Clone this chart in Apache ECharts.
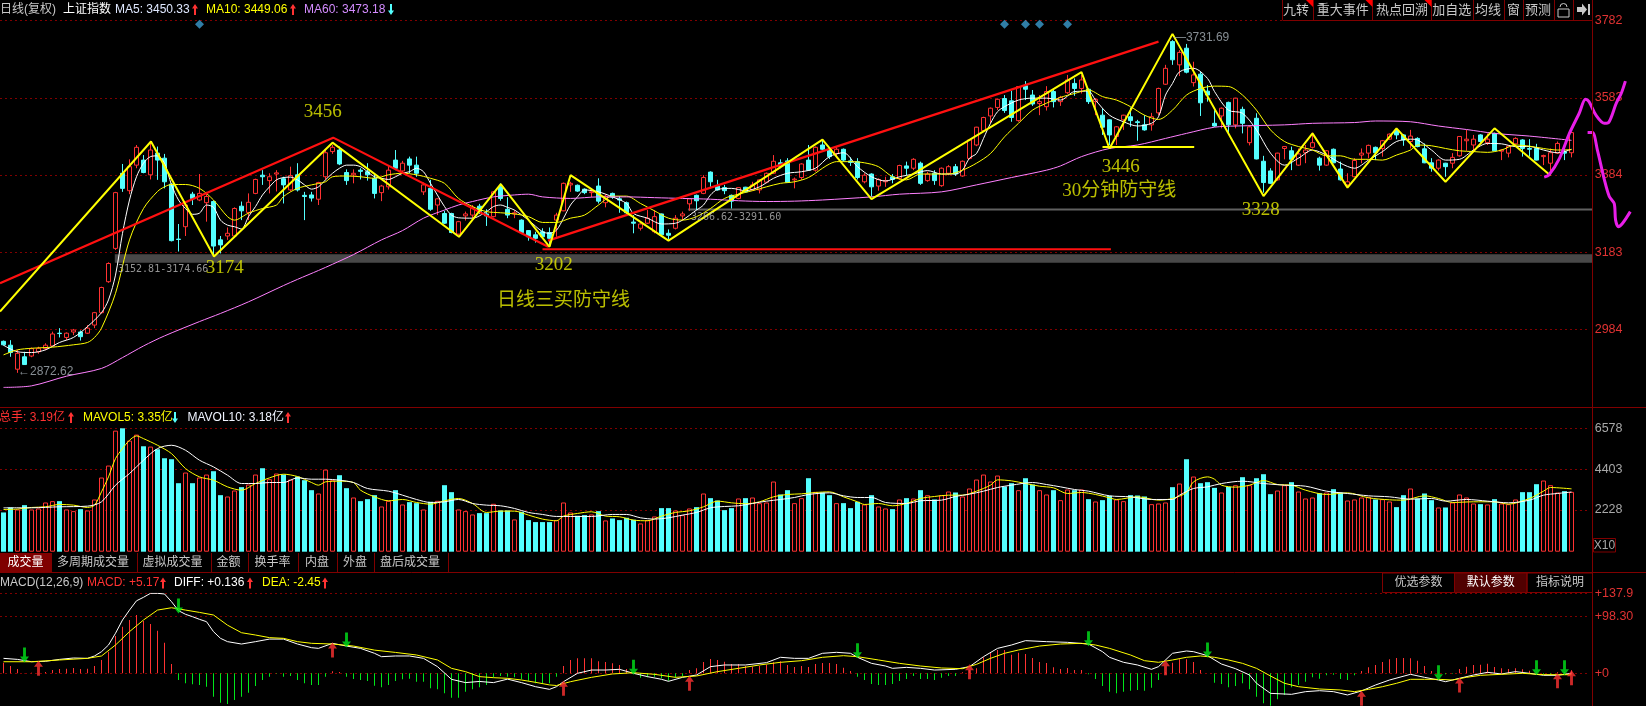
<!DOCTYPE html>
<html><head><meta charset="utf-8"><style>html,body{margin:0;background:#000}#c{width:1646px;height:706px}</style>
<script src="https://cdn.jsdelivr.net/npm/echarts@6/dist/echarts.min.js"></script></head><body><div id="c"></div>
<script>
// open, close, low, high per session
const ohlc=[[2954,2945,2943,2956],[2944,2925,2914,2957],[2882,2923,2872.62,2932],[2914,2894,2893,2927],[2916,2935,2913,2938],[2927,2936,2922,2940],[2935,2944,2931,2949],[2942,2973,2940,2979],[2975,2974,2964,2988],[2964,2975,2957,2977],
[2978,2983,2970,2986],[2978,2966,2956,2982],[2975,2988,2973,2996],[2996,3028,2988,3030],[3028,3093,3026,3095],[3108,3155,3105,3158],[3194,3338,3190,3340],[3388,3349,3340,3412],[3343,3405,3334,3424],[3409,3455,3401,3461],
[3422,3390,3388,3435],[3384,3448,3372,3470],[3440,3422,3371,3457],[3427,3366,3349,3438],[3360,3214,3212,3362],[3218,3217,3186,3257],[3250,3306,3226,3315],[3334,3323,3306,3340],[3319,3336,3316,3386],[3312,3328,3263,3340],
[3315,3200,3173,3318],[3216,3203,3181,3226],[3226,3233,3216,3248],[3226,3297,3222,3300],[3303,3291,3267,3315],[3287,3313,3267,3336],[3336,3372,3334,3374],[3383,3379,3358,3396],[3369,3379,3336,3388],[3386,3389,3341,3396],
[3374,3358,3310,3379],[3345,3382,3341,3405],[3384,3345,3341,3414],[3331,3328,3267,3340],[3332,3324,3315,3340],[3321,3364,3306,3366],[3379,3441,3371,3448],[3444,3455,3438,3461],[3448,3412,3409,3457],[3390,3369,3358,3398],
[3384,3388,3362,3398],[3396,3393,3372,3401],[3392,3384,3369,3414],[3375,3336,3323,3384],[3338,3355,3316,3358],[3353,3396,3346,3409],[3422,3401,3396,3448],[3394,3414,3390,3420],[3425,3409,3388,3431],[3409,3388,3379,3431],
[3340,3358,3332,3364],[3349,3295,3291,3371],[3306,3322,3280,3323],[3284,3259,3257,3291],[3284,3235,3233,3286],[3231,3263,3229,3265],[3278,3283,3266,3289],[3280,3300,3272,3306],[3303,3289,3283,3309],[3283,3278,3252,3295],
[3276,3340,3274,3342],[3353,3323,3317,3362],[3295,3280,3272,3326],[3283,3286,3272,3293],[3267,3235,3231,3269],[3240,3224,3214,3241],[3229,3220,3209,3237],[3237,3224,3220,3246],[3235,3220,3198,3248],[3267,3280,3224,3286],
[3291,3362,3290,3364],[3358,3362,3340,3366],[3357,3342,3340,3359],[3347,3338,3334,3349],[3338,3340,3326,3349],[3355,3316,3310,3375],[3312,3329,3300,3334],[3336,3326,3322,3338],[3322,3319,3286,3329],[3312,3286,3283,3315],
[3262,3259,3233,3280],[3246,3257,3240,3259],[3259,3272,3257,3293],[3237,3276,3233,3293],[3283,3229,3227,3284],[3233,3228,3217,3243],[3246,3272,3243,3280],[3278,3283,3266,3289],[3309,3322,3291,3324],[3331,3317,3293,3333],
[3336,3377,3334,3383],[3391,3366,3353,3393],[3355,3345,3343,3371],[3351,3343,3334,3358],[3331,3316,3297,3333],[3323,3351,3321,3352],[3352,3340,3338,3353],[3345,3358,3343,3366],[3345,3371,3336,3372],[3365,3388,3362,3390],
[3388,3419,3386,3435],[3415,3406,3401,3424],[3420,3365,3364,3427],[3371,3373,3349,3377],[3377,3412,3371,3414],[3422,3396,3394,3461],[3396,3455,3392,3457],[3461,3450,3444,3474],[3450,3431,3425,3455],[3439,3450,3427,3457],
[3450,3422,3418,3452],[3420,3416,3407,3429],[3418,3377,3372,3427],[3366,3383,3362,3388],[3386,3353,3328,3388],[3355,3372,3343,3375],[3366,3369,3353,3379],[3379,3372,3362,3386],[3375,3408,3371,3410],[3407,3401,3383,3418],
[3401,3424,3396,3427],[3414,3362,3358,3418],[3369,3386,3366,3392],[3388,3369,3358,3396],[3356,3401,3353,3403],[3388,3405,3383,3409],[3405,3386,3381,3412],[3381,3419,3379,3421],[3426,3474,3424,3476],[3461,3507,3458,3508],
[3498,3532,3495,3534],[3536,3556,3517,3558],[3558,3579,3551,3581],[3581,3550,3544,3590],[3575,3532,3521,3601],[3524,3612,3521,3613],[3614,3605,3577,3626],[3590,3567,3562,3603],[3568,3573,3538,3590],[3560,3599,3550,3613],
[3599,3573,3558,3607],[3573,3584,3562,3588],[3596,3629,3593,3642],[3620,3607,3588,3633],[3607,3629,3594,3642],[3605,3573,3567,3607],[3573,3579,3538,3582],[3538,3507,3487,3556],[3526,3487,3461,3527],[3483,3508,3461,3510],
[3526,3538,3500,3539],[3534,3524,3508,3558],[3521,3519,3472,3526],[3513,3500,3498,3538],[3513,3534,3498,3544],[3544,3607,3538,3609],[3618,3659,3616,3668],[3728,3681,3668,3731.69],[3668,3700,3639,3706],[3711,3649,3646,3722],
[3622,3642,3612,3676],[3644,3570,3536,3650],[3600,3590,3573,3616],[3517,3510,3508,3551],[3536,3556,3504,3558],[3571,3513,3491,3573],[3513,3582,3504,3583],[3553,3517,3491,3560],[3467,3508,3460,3510],[3530,3425,3424,3543],
[3419,3364,3338,3433],[3394,3362,3360,3401],[3371,3440,3369,3441],[3452,3457,3424,3458],[3446,3424,3396,3457],[3409,3438,3407,3452],[3441,3448,3414,3461],[3455,3467,3452,3493],[3427,3409,3395,3431],[3409,3446,3407,3448],
[3450,3415,3414,3452],[3399,3371,3369,3418],[3358,3366,3355,3388],[3379,3421,3378,3427],[3435,3440,3414,3452],[3440,3460,3427,3462],[3455,3441,3422,3457],[3452,3472,3431,3474],[3476,3489,3474,3491],[3498,3487,3476,3504],
[3487,3474,3459,3489],[3470,3484,3452,3500],[3478,3457,3455,3481],[3451,3415,3414,3465],[3415,3401,3392,3427],[3401,3422,3395,3424],[3414,3405,3379,3415],[3414,3429,3401,3440],[3433,3483,3431,3484],[3472,3476,3446,3500],
[3461,3476,3448,3487],[3487,3470,3467,3489],[3467,3476,3461,3491],[3491,3446,3445,3493],[3445,3448,3422,3450],[3440,3458,3429,3460],[3464,3478,3462,3481],[3474,3452,3431,3476],[3452,3450,3431,3476],[3452,3422,3421,3464],
[3431,3434,3409,3436],[3414,3441,3392,3452],[3440,3465,3438,3470],[3444,3440,3422,3452],[3441,3493,3429,3495]];
const volume=[2092,2358,2252,2482,2252,2305,2624,2695,2695,2252,2163,2269,2199,2784,3954,4592,6454,6578,5922,6241,5620,5603,5461,4982,4929,3652,4220,3652,3954,4113,4291,3014,2943,3262,3440,3581,4113,4450,3865,4167,4113,3847,4007,3812,3280,3103,4379,3812,4078,3386,2890,2695,2801,3014,2411,2713,3280,2518,2642,2589,2252,2660,2713,3546,3174,2252,2163,1986,2057,2057,2553,2199,2199,1720,2128,1684,1578,1578,1578,1684,
2624,2092,1915,1950,1986,2163,1667,1773,1684,1808,1702,1507,1684,1879,2323,2323,2199,1950,2305,2376,3103,2855,2730,2216,2323,2837,2855,2890,2589,2624,3741,3050,3280,2589,2855,3918,3191,3156,3014,2589,2589,2323,2660,2518,3014,2411,2305,2269,2784,2855,2837,3280,3014,2784,3014,3209,3156,2943,3369,3847,4113,3741,4060,3475,3652,3280,3918,3581,3280,3050,3280,2748,3316,3280,3316,2801,2677,2748,2979,2784,
2695,3014,2996,2943,2535,2571,2624,3440,3635,4929,4007,3652,3706,3404,3156,3457,3546,3972,3546,3918,4131,3067,3262,3546,3706,3209,2837,2890,3120,3156,3333,3156,2730,2784,2890,2925,2784,2801,2677,2376,3014,3369,2837,3103,2748,2358,2358,2624,3050,2890,2571,2535,2518,2801,2571,2535,2784,3174,3174,3599,3794,3546,3156,3227,3190];
const macdHist=[18.4,12.6,7.5,0.6,1.1,-0.5,2.3,5.7,7.5,8,9.2,7.5,8,12.6,23,37.3,64.3,80.4,91.9,100.5,90.2,85,73.5,52.8,16,-11.5,-17.2,-19,-20,-23,-40.2,-50.5,-52.8,-46,-40.2,-33.3,-21.8,-11.5,-5.7,-0.6,-5.7,-4.6,-11.5,-17.2,-20,-20,-5.7,3.4,2.3,-5.7,-9.8,-11.5,-13.2,-21.3,-24.1,-20,-13.2,-10.3,-9.2,-14.4,-14.4,-25.9,-27.6,-34.5,-41.9,-41.9,-31.6,-27.6,-24.1,-20,-6.9,-4.6,-5.7,-6.9,-10.3,-12.6,-17.2,-17.2,-17.2,-5.7,
12.6,23,25.8,25.8,25.8,20.7,19.5,17.2,14.4,7.5,1,-7.5,-6.9,-5.7,-8.6,-12.6,-7.5,-4.6,5.7,8.6,19.5,24.7,23,20.1,16,16,12.6,11.5,12.6,14.9,19,20.7,14.4,10.9,12.6,10.9,16,17.8,17.8,16,9.8,4,-5.7,-11.5,-18.4,-20.1,-20.1,-18.4,-13.2,-9.8,-4.6,-9.8,-9.8,-11.5,-7.5,-4.6,-4.6,1.7,5.7,8.6,27.6,35.6,40.2,40.2,32.2,35.6,33.3,26.4,19.5,17.8,10.3,7.5,9.2,5.7,5.7,-1.7,-9.8,-21.8,-31.6,
-34.5,-31.6,-29.9,-28.7,-29.9,-24.7,-11.5,1.7,18.4,24.1,24.1,19.5,5.7,0.3,-16.1,-18.4,-24.1,-21.8,-17.2,-27.6,-40.2,-51.7,-56,-44.8,-37.3,-24.1,-20.1,-14.4,-6.9,-9.2,-3.4,-2.3,-9.8,-11.5,-3.4,4,10.3,14.4,19.5,24.1,26.4,26.4,25.8,21.8,12.6,4,1.1,-1.7,-0.6,7.5,11.5,14.4,14.9,16.7,10.9,8.6,7.5,8.6,6.9,4.6,1.1,-1.1,-1.7,1.7,1.7,5.17];
// moving averages read at [session, value]
const ma5=[[0,2944],[2,2927],[4,2925],[6,2932],[8,2951],[10,2964],[12,2992],[14,3028],[15,3061],[16,3125],[17,3233],[18,3319],[19,3379],[20,3414],[21,3431],[22,3433],[23,3414],[24,3358],[25,3319],[26,3297],[27,3282],[28,3285],[29,3306],[30,3300],[31,3267],[32,3254],[33,3250],[34,3244],[35,3276],[36,3302],[37,3332],[38,3353],[39,3371],[40,3377],[41,3378],[42,3371],[43,3358],[44,3347],[45,3353],[46,3371],[47,3388],[48,3401],[49,3409],[50,3409],[51,3405],[52,3392],[53,3379],[54,3375],[55,3372],[56,3379],[57,3388],[58,3392],[59,3401],[60,3392],[61,3362],[63,3302],[64,3280],[65,3273],[67,3272],[69,3289],[70,3302],[71,3306],[72,3300],[73,3293],[75,3267],[77,3237],[78,3233],[79,3241],[80,3272],[81,3306],[82,3327],[83,3345],[85,3340],[87,3327],[89,3310],[90,3284],[92,3272],[94,3257],[96,3259],[97,3267],[99,3293],[100,3306],[101,3332],[102,3346],[104,3349],[106,3343],[108,3353],[110,3375],[112,3388],[114,3392],[116,3401],[118,3431],[120,3441],[122,3405],[124,3379],[126,3368],[128,3379],[130,3386],[132,3395],[134,3386],[136,3386],[137,3396],[138,3427],[139,3439],[140,3478],[141,3517],[142,3547],[143,3560],[145,3577],[147,3582],[149,3582],[151,3577],[153,3599],[155,3600],[156,3577],[158,3538],[160,3521],[162,3510],[164,3517],[165,3534],[166,3590],[167,3620],[168,3650],[170,3659],[172,3633],[173,3599],[175,3551],[177,3543],[179,3500],[181,3440],[183,3409],[185,3427],[187,3448],[189,3435],[191,3414],[193,3401],[195,3422],[197,3444],[199,3470],[201,3476],[202,3474],[204,3448],[206,3422],[208,3424],[210,3448],[212,3465],[214,3464],[216,3457],[218,3457],[220,3448],[222,3441],[224,3450]];
const ma10=[[0,2919],[2,2932],[4,2936],[7,2939],[10,2945],[12,2951],[13,2964],[14,2988],[16,3078],[18,3216],[20,3297],[22,3341],[23,3353],[24,3359],[26,3359],[28,3349],[30,3319],[32,3276],[33,3267],[35,3285],[37,3297],[39,3306],[40,3328],[42,3349],[44,3358],[46,3366],[47,3379],[49,3381],[51,3379],[53,3375],[55,3384],[57,3388],[59,3384],[61,3375],[63,3362],[65,3323],[67,3302],[69,3289],[71,3286],[73,3283],[75,3276],[77,3261],[79,3261],[81,3272],[83,3280],[85,3306],[87,3329],[89,3329],[91,3310],[93,3291],[95,3272],[97,3267],[99,3276],[101,3297],[103,3323],[105,3334],[107,3343],[109,3353],[111,3362],[113,3366],[115,3377],[117,3401],[118,3412],[119,3418],[121,3418],[123,3415],[125,3405],[127,3379],[129,3371],[131,3386],[133,3386],[135,3386],[137,3396],[139,3414],[141,3439],[143,3482],[145,3517],[147,3551],[149,3569],[151,3584],[153,3594],[155,3603],[157,3586],[159,3577],[161,3560],[163,3538],[165,3527],[167,3551],[169,3590],[171,3607],[173,3613],[175,3612],[177,3590],[179,3551],[181,3500],[183,3470],[185,3457],[187,3448],[189,3433],[191,3433],[193,3424],[195,3424],[197,3422],[199,3435],[201,3448],[202,3461],[204,3459],[206,3452],[208,3446],[210,3444],[212,3442],[214,3448],[216,3461],[218,3458],[220,3452],[222,3448],[224,3449]];
const ma60=[[0,2835],[4,2839],[9,2864],[14,2884],[17,2912],[20,2942],[23,2968],[28,3005],[31,3026],[35,3056],[40,3098],[42,3114],[45,3137],[47,3153],[50,3178],[52,3197],[54,3216],[57,3240],[60,3272],[63,3293],[65,3306],[67,3315],[70,3327],[73,3332],[75,3334],[77,3327],[81,3323],[85,3327],[89,3327],[93,3325],[97,3323],[101,3321],[105,3317],[109,3315],[113,3316],[117,3319],[124,3327],[128,3334],[134,3340],[139,3358],[144,3377],[149,3396],[151,3407],[154,3431],[158,3452],[162,3461],[166,3478],[169,3491],[173,3507],[176,3510],[183,3513],[187,3517],[193,3519],[196,3523],[201,3521],[205,3510],[209,3501],[213,3491],[218,3484],[224,3473]];
const mavol5=[[0,2252],[2,2270],[4,2358],[6,2394],[8,2518],[10,2482],[12,2358],[13,2482],[14,3191],[15,3989],[16,4964],[17,5496],[18,5940],[19,6170],[20,6028],[22,5674],[24,5230],[26,4433],[28,3989],[30,3812],[32,3457],[34,3280],[36,3635],[38,3936],[40,4131],[42,4007],[44,3688],[45,3546],[46,3723],[48,3759],[50,3688],[51,3280],[53,2925],[55,2713],[57,2784],[59,2624],[61,2535],[63,2713],[65,2837],[67,2571],[69,2092],[71,2163],[73,2163],[75,1950],[77,1738],[79,1649],[80,1897],[82,2039],[84,2128],[86,1897],[88,1862],[90,1684],[92,1649],[94,1897],[96,2092],[98,2181],[100,2394],[102,2695],[104,2606],[106,2553],[108,2660],[110,2925],[112,3050],[114,3085],[116,3156],[118,3191],[120,2925],[122,2660],[123,2518],[125,2571],[127,2447],[129,2571],[131,2837],[133,2943],[135,3014],[137,3014],[139,3227],[141,3546],[142,3830],[144,3776],[146,3635],[148,3493],[150,3404],[152,3103],[154,3156],[156,3050],[158,2872],[159,2784],[162,2925],[165,2748],[167,2837],[169,3156],[170,3723],[172,3989],[173,3865],[174,3546],[176,3440],[178,3546],[180,3794],[182,3581],[184,3546],[186,3280],[189,3050],[192,3138],[195,2872],[198,2766],[200,2748],[203,2979],[205,2837],[207,2624],[210,2660],[213,2660],[215,2535],[218,2837],[220,3227],[221,3422],[224,3350]];
const mavol10=[[0,2340],[4,2340],[8,2394],[12,2429],[14,2660],[16,3546],[18,4167],[20,4876],[22,5496],[24,5674],[26,5408],[28,4876],[30,4521],[32,4078],[34,3635],[36,3635],[38,3688],[40,3688],[42,3936],[44,3865],[46,3865],[48,3812],[50,3688],[52,3369],[55,3227],[57,3014],[59,2784],[61,2624],[63,2660],[65,2784],[67,2571],[69,2482],[71,2447],[73,2305],[75,2092],[77,1986],[79,1879],[80,1879],[84,1879],[87,1986],[89,1986],[91,1808],[93,1738],[95,1808],[97,1950],[99,2092],[101,2340],[103,2411],[105,2447],[107,2571],[109,2695],[111,2784],[113,2890],[115,3050],[118,3138],[120,2979],[122,2890],[124,2890],[126,2624],[129,2571],[131,2713],[134,2748],[136,2943],[138,3067],[140,3227],[142,3422],[144,3546],[147,3688],[149,3581],[151,3457],[153,3316],[155,3227],[158,2979],[161,2925],[164,2784],[167,2784],[168,3014],[170,3369],[172,3457],[174,3635],[177,3759],[180,3635],[183,3546],[186,3493],[189,3227],[192,3103],[195,2979],[198,2925],[201,2801],[204,2837],[206,2695],[209,2784],[212,2695],[215,2606],[218,2748],[220,3014],[222,3103],[224,3180]];
const diff=[[0,25.8],[2,24],[4,20],[6,20.7],[8,24],[10,26.4],[12,25.8],[13,29.9],[14,37.3],[15,48.8],[16,69],[17,91.9],[18,109],[19,125],[20,131],[21,137.9],[22,137.9],[23,136.7],[24,123.5],[25,108],[26,101.7],[27,97.6],[28,93],[29,89],[30,71.8],[31,60.3],[32,54.6],[34,50.5],[36,54.6],[38,59],[40,59],[42,50.5],[44,44.2],[45,43],[47,51.7],[49,47],[51,43],[53,34.5],[54,28.7],[56,29.9],[58,29.9],[60,25.8],[62,11.5],[64,-10.3],[66,-16],[68,-14],[70,-16],[72,-10],[74,-16],[76,-23],[78,-27.6],[79,-23],[80,-14.4],[82,0],[84,5.7],[86,5.7],[88,6.9],[90,0],[92,-5.7],[94,-10.3],[95,-13.8],[97,-6.9],[99,-2.9],[101,11.5],[103,14.4],[106,14.4],[109,18.4],[111,27.6],[113,25.8],[115,25.8],[117,34.5],[119,36.2],[121,34.5],[122,27.6],[124,17.2],[126,12.6],[127,8.6],[129,10.3],[131,8.6],[133,5.7],[136,6.9],[138,11.5],[140,28.7],[142,43],[144,48.8],[146,56.3],[149,54.6],[152,53.4],[155,50.5],[157,37.3],[158,27.6],[160,19],[162,14.4],[164,6.9],[165,11.5],[167,34.5],[169,38.5],[170,37.3],[172,30.4],[174,16],[176,8],[178,-2.9],[179,-17.2],[181,-34.5],[184,-36.2],[186,-31.6],[188,-29.9],[190,-31.6],[192,-37.3],[194,-30.4],[196,-20.1],[198,-11.5],[201,-1.7],[203,-6.9],[205,-11.5],[206,-14.4],[208,-8.6],[210,-2.9],[212,1.7],[214,-1.1],[216,2.9],[218,0],[220,-3.4],[222,-3.4],[224,0.136]];
const dea=[[0,20],[4,20],[8,23],[12,25.8],[14,29.9],[16,48.8],[18,71.8],[20,91.9],[22,109],[24,113],[26,109],[28,105],[30,100.5],[32,83],[34,70],[36,66],[38,61.5],[40,60.3],[42,54.6],[44,51.7],[47,50.5],[50,47],[53,40],[56,36],[59,31.6],[62,23],[64,8.6],[66,2.9],[68,-5.7],[70,-7.5],[72,-8.6],[74,-11.5],[76,-15.5],[78,-20],[79,-21],[81,-14.4],[84,-6.9],[87,-1.1],[90,1.1],[93,-1.7],[96,-6.9],[99,-4.6],[102,2.9],[105,8.6],[108,14.4],[111,19],[114,21.8],[117,27.6],[120,30.4],[122,28.7],[125,23],[128,17.2],[131,12.6],[134,9.2],[137,8],[139,15.5],[141,25.8],[143,34.5],[145,40.2],[148,47],[151,50.5],[154,51.7],[156,48.8],[158,43],[161,31.6],[163,21.8],[165,19],[167,23],[169,27.6],[171,29.9],[173,27.6],[175,23],[177,17.2],[179,8.6],[181,-4.6],[183,-17.2],[185,-23],[188,-27],[191,-28.7],[193,-31.6],[195,-27.6],[197,-23],[199,-17.2],[201,-10.3],[203,-10.3],[205,-10.3],[207,-11.5],[209,-6.9],[211,-3.4],[214,-1.7],[217,0],[220,-2.3],[224,-2.45]];
// hand-drawn annotations: [bar position, price]
const yellowZig=[[-0.5,3031],[21.07,3470],[30.07,3173],[47,3467],[65.07,3224],[71.03,3360],[78,3198],[81,3383],[95,3214],[117,3475],[124,3321],[154,3649],[158,3452],[167,3748],[180,3329],[187,3491],[192,3351],[199,3504],[206,3366],[213,3504],[221,3382]];
const yellowFloor=[[157,3456],[170.1,3456]];
const redTrendA=[[-0.5,3104],[47.1,3480],[77.8,3198]];
const redTrendB=[[77.8,3214],[165,3728]];
const redFloor=[[77,3192],[158.2,3192]];
const pinkUp=[[220.1,3378],[220.8,3384],[222.3,3427],[223.7,3491],[225.1,3543],[226,3579],[226.5,3573],[227.5,3538],[228.7,3517],[229.3,3519],[230.4,3569],[231.1,3594],[231.7,3626]];
const pinkDown=[[226.3,3493],[227,3493],[227.7,3448],[228.7,3371],[229.4,3328],[230.1,3310],[230.3,3267],[230.7,3250],[231.3,3259],[232.4,3289]];
const bandDaily=[[15.9,3179],[227,3157]];
const bandThirty=[[97.8,3297],[227,3292]];
const diamonds=[[28,3773],[143,3773],[146,3773],[148,3773],[152,3773]];
const notes=[['3456',45.6,3546],['3174',31.6,3143],['3202',78.6,3151],['3446',159.6,3404],['30分钟防守线',159.4,3342],['3328',179.6,3293],['日线三买防守线',80,3058]];
const monoNotes=[['3152.81-3174.66',16.36,3141],['3266.62-3291.60',98.2,3275]];
const extremes=[['←2872.62',2.07,2876],['—3731.69',167.2,3737]];
const upSignals=[[5,8.6],[47,40.2],[80,-25.8],[98,-17.2],[138,2.9],[166,9.8],[194,-43],[208,-20],[222,-13],[224,-7.5]];
const downSignals=[[3,31.6],[25,116],[49,57.4],[90,10.3],[122,39],[155,59.7],[172,40.2],[205,1.1],[219,9.8],[223,9.8]];
const priceTicks=[2984,3183,3384,3583,3782];
const volTicks=[2228,4403,6578];
const macdTicks=[0,98.3,137.9];
const macdTickText={0:'+0',98.3:'+98.30',137.9:'+137.9'};
const categories=Array.from({length:227},(_,i)=>String(i));

const RED='#ff3232',CYAN='#54ffff',DARK='#800000',GREY='#a8a8a8',YEL='#ffff00',PINK='#ff80ff';
const FONT='"Liberation Sans","Noto Sans CJK SC",sans-serif';
const ARROW='path://M5,0 L10,6 L6.6,6 L6.6,15 L3.4,15 L3.4,6 L0,6 Z';

function T(text,x,y,fill,align,size){return {type:'text',x:x,y:y,silent:true,z:50,style:{text:text,fill:fill,font:(size||12)+'px '+FONT,textAlign:align||'left',textVerticalAlign:'middle'}};}
function L(x1,y1,x2,y2,c){return {type:'line',silent:true,z:49,shape:{x1:x1,y1:y1,x2:x2,y2:y2},style:{stroke:c||DARK,lineWidth:1}};}
function R(x,y,w,h,c,s){return {type:'rect',silent:true,z:48,shape:{x:x,y:y,width:w,height:h},style:{fill:c||'none',stroke:s||null,lineWidth:1}};}
function A(x,y,up,c){var d=up?1:-1;return {type:'polygon',silent:true,z:50,shape:{points:[[x,y-5.5*d],[x+3,y-1*d],[x+1,y-1*d],[x+1,y+5.5*d],[x-1,y+5.5*d],[x-1,y-1*d],[x-3,y-1*d]]},style:{fill:c}};}
function Tri(x,y){return {type:'polygon',silent:true,z:50,shape:{points:[[x-7,y],[x,y],[x,y+7]]},style:{fill:'#ff0000'}};}

const chrome=[
 L(1592.5,0,1592.5,706),L(0,407.5,1592,407.5),L(1592,407.5,1646,407.5),L(0,572.5,1646,572.5),L(1282.5,20.5,1592.5,20.5),
 T('日线(复权)',0,9.5,'#c8c8c8'),T('上证指数',63,9.5,'#ffffff'),
 T('MA5: 3450.33',115,9.5,'#dfe8ff'),A(195,9.5,true,RED),
 T('MA10: 3449.06',206,9.5,YEL),A(293,9.5,true,RED),
 T('MA60: 3473.18',304,9.5,'#d48cff'),A(391,9.5,false,CYAN),
 T('总手: 3.19亿',-1,417.5,RED),A(71,417.5,true,RED),
 T('MAVOL5: 3.35亿',83,417.5,YEL),A(175,417.5,false,CYAN),
 T('MAVOL10: 3.18亿',187.5,417.5,'#f0f4ff'),A(288,417.5,true,RED),
 T('MACD(12,26,9)',0,583,'#c8c8c8'),T('MACD: +5.17',87,583,RED),A(163,583,true,RED),
 T('DIFF: +0.136',174,583,'#ffffff'),A(250,583,true,RED),T('DEA: -2.45',262,583,YEL),A(325,583,true,RED),
 R(0,553,51,19.5,'#800000'),T('成交量',25.5,563,'#ffffff','center'),
 T('多周期成交量',93,563,'#c8c8c8','center'),T('虚拟成交量',172.5,563,'#c8c8c8','center'),T('金额',228.6,563,'#c8c8c8','center'),T('换手率',272.5,563,'#c8c8c8','center'),T('内盘',317,563,'#c8c8c8','center'),T('外盘',355,563,'#c8c8c8','center'),T('盘后成交量',410,563,'#c8c8c8','center'),
 R(1382.5,573,72,19.5,null,DARK),R(1454.5,573,72.5,19.5,'#500000',DARK),R(1527,573,65.5,19.5,null,DARK),
 T('优选参数',1418.5,583,'#c8c8c8','center'),T('默认参数',1490.7,583,'#ffffff','center'),T('指标说明',1560,583,'#c8c8c8','center'),
 R(1593.5,538.5,22,13.5,null,DARK),T('X10',1604.5,546,GREY,'center'),
 T('九转',1296,10,'#c8c8c8','center',13),T('重大事件',1342.7,10,'#c8c8c8','center',13),T('热点回溯',1402,10,'#c8c8c8','center',13),T('加自选',1451.7,10,'#c8c8c8','center',13),T('均线',1488,10,'#c8c8c8','center',13),T('窗',1513.5,10,'#c8c8c8','center',13),T('预测',1538,10,'#c8c8c8','center',13),
 Tri(1313,0),Tri(1372.5,0),Tri(1431.5,0),
 {type:'rect',silent:true,z:50,shape:{x:1558,y:9,width:11,height:8},style:{fill:'none',stroke:'#c8c8c8',lineWidth:1}},
 {type:'arc',silent:true,z:50,shape:{cx:1563.5,cy:7,r:3.5,startAngle:Math.PI,endAngle:0},style:{fill:'none',stroke:'#c8c8c8',lineWidth:1}},
 {type:'polygon',silent:true,z:50,shape:{points:[[1577,7],[1582,7],[1582,3.5],[1587,9.5],[1582,15.5],[1582,12],[1577,12]]},style:{fill:'#c8c8c8'}},
 R(1588,4,2,11,'#c8c8c8')
];
[1282.5,1313.5,1372.5,1431.5,1473.5,1504.5,1523.5,1554.5,1573.5].forEach(function(x){chrome.push(L(x,0,x,20));});
[51.5,137.5,211.5,248.5,298.5,337.5,374.5,448.5].forEach(function(x){chrome.push(L(x,553,x,572));});

function ln(name,data,color,xi,yi,w,z,extra){return Object.assign({name:name,type:'line',data:data,xAxisIndex:xi,yAxisIndex:yi,showSymbol:false,symbol:'none',silent:true,z:z||3,lineStyle:{color:color,width:w||1},itemStyle:{color:color},animation:false},extra||{});}
function noteSeries(name,rows,font,size,color,pos){return {name:name,type:'scatter',xAxisIndex:1,yAxisIndex:0,symbolSize:0,silent:true,z:8,clip:false,data:rows.map(function(r){return {name:r[0],value:[r[1],r[2]]};}),label:{show:true,position:pos,distance:0,formatter:'{b}',color:color,fontFamily:font,fontSize:size}};}
function plain(v){return String(v);}

const option={
 backgroundColor:'#000',animation:false,tooltip:{show:false},legend:{show:false},graphic:{elements:chrome},
 grid:[{left:0,top:20.7,width:1589,height:386.45},{left:0,top:428.3,width:1589,height:123.4},{left:0,top:593.3,width:1589,height:112.7},{left:0,top:20.7,width:1646,height:386.45}],
 xAxis:[
  {type:'category',gridIndex:0,data:categories,show:false,boundaryGap:true},
  {type:'value',gridIndex:0,min:-0.5,max:226.5,show:false},
  {type:'category',gridIndex:1,data:categories,show:false,boundaryGap:true},
  {type:'category',gridIndex:2,data:categories,show:false,boundaryGap:true},
  {type:'value',gridIndex:3,min:-0.5,max:234.643,show:false}],
 yAxis:[
  {type:'value',gridIndex:0,position:'right',offset:3.7,min:2784,max:3782,scale:true,axisLine:{show:false},axisTick:{show:false,customValues:priceTicks},
   axisLabel:{customValues:priceTicks,color:'#e03232',fontSize:12.5,fontFamily:'Liberation Sans',margin:2,formatter:plain},splitLine:{show:true,lineStyle:{color:DARK,type:[2,3],width:1}}},
  {type:'value',gridIndex:1,position:'right',offset:3.7,min:0,max:6578,axisLine:{show:false},axisTick:{show:false,customValues:volTicks},
   axisLabel:{customValues:volTicks,color:GREY,fontSize:12.5,fontFamily:'Liberation Sans',margin:2,formatter:plain},splitLine:{show:true,lineStyle:{color:DARK,type:[2,3],width:1}}},
  {type:'value',gridIndex:2,position:'right',offset:3.7,min:-56.3,max:137.9,axisLine:{show:false},axisTick:{show:false,customValues:macdTicks},
   axisLabel:{customValues:macdTicks,color:'#e03232',fontSize:12.5,fontFamily:'Liberation Sans',margin:2,formatter:function(v){return macdTickText[v];}},splitLine:{show:true,lineStyle:{color:DARK,type:[2,3],width:1}}},
  {type:'value',gridIndex:3,min:2784,max:3782,scale:true,show:false,splitLine:{show:false}}],
 series:[
  {name:'bands',type:'line',xAxisIndex:4,yAxisIndex:3,data:[],z:1,silent:true,
   markArea:{silent:true,itemStyle:{color:'#484848'},data:[[{coord:bandDaily[0]},{coord:bandDaily[1]}],[{coord:bandThirty[0],itemStyle:{color:'#606060'}},{coord:bandThirty[1]}]]}},
  {name:'K',type:'candlestick',xAxisIndex:0,yAxisIndex:0,data:ohlc,barWidth:5,z:2,silent:true,itemStyle:{color:'#000',color0:CYAN,borderColor:RED,borderColor0:CYAN,borderWidth:1}},
  ln('MA5',ma5,'#ffffff',0,0,1,3,{smooth:0.3}),ln('MA10',ma10,YEL,0,0,1,3,{smooth:0.3}),ln('MA60',ma60,PINK,0,0,1,3,{smooth:0.3}),
  ln('yellowZig',yellowZig,YEL,1,0,2,5,{clip:false}),ln('yellowFloor',yellowFloor,YEL,1,0,2,5),
  ln('redA',redTrendA,'#ff1010',1,0,2.2,4,{clip:false}),ln('redB',redTrendB,'#ff1010',1,0,2.2,4),ln('redFloor',redFloor,'#ff1010',1,0,2,4),
  ln('pinkUp',pinkUp,'#e81ee8',4,3,3,9,{smooth:0.3}),ln('pinkDown',pinkDown,'#e81ee8',4,3,3,9,{smooth:0.3}),
  {name:'diamonds',type:'scatter',xAxisIndex:0,yAxisIndex:0,data:diamonds,symbol:'diamond',symbolSize:[9,9],itemStyle:{color:'#3c9ccf'},z:6,silent:true},
  noteSeries('notes',notes,'"Liberation Serif","Noto Sans CJK SC"',19,'#e8ee00','inside'),
  noteSeries('mono',monoNotes,'"DejaVu Sans Mono"',10,'#b8b8b8','right'),
  noteSeries('ext',extremes,'"Liberation Sans"',12,'#a8b0b8','right'),
  {name:'VOL',type:'bar',xAxisIndex:2,yAxisIndex:1,barWidth:5,z:2,silent:true,
   data:volume.map(function(v,i){var up=ohlc[i][1]>=ohlc[i][0];return {value:v,itemStyle:up?{color:'#000',borderColor:RED,borderWidth:1}:{color:CYAN}};})},
  ln('MAVOL5',mavol5,YEL,2,1,1,3,{smooth:0.3}),ln('MAVOL10',mavol10,'#ffffff',2,1,1,3,{smooth:0.3}),
  {name:'MACD',type:'bar',xAxisIndex:3,yAxisIndex:2,barWidth:1,z:2,silent:true,clip:true,
   data:macdHist.map(function(v){return {value:v,itemStyle:{color:v>=0?RED:'#00e61a'}};})},
  ln('DIFF',diff,'#ffffff',3,2,1,3),ln('DEA',dea,YEL,3,2,1,3),
  {name:'buy',type:'scatter',xAxisIndex:3,yAxisIndex:2,data:upSignals,symbol:ARROW,symbolSize:[9,15],itemStyle:{color:RED},z:6,silent:true},
  {name:'sell',type:'scatter',xAxisIndex:3,yAxisIndex:2,data:downSignals,symbol:ARROW,symbolSize:[9,15],symbolRotate:180,itemStyle:{color:'#00e61a'},z:6,silent:true}
 ]
};
const chart=echarts.init(document.getElementById('c'),null,{renderer:'canvas',width:1646,height:706});
chart.setOption(option);
</script></body></html>
